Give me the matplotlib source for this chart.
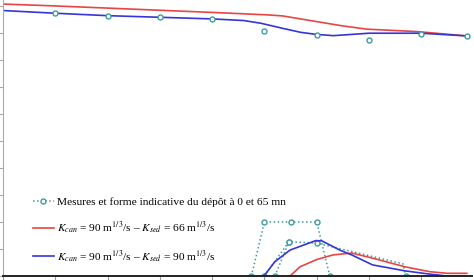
import matplotlib
matplotlib.use("Agg")
from matplotlib import pyplot as plt

# fonts: Times-like text with stix math
plt.rcParams['font.family'] = ['Liberation Serif', 'DejaVu Serif']
plt.rcParams['mathtext.fontset'] = 'stix'

# measured points along the top (water line)
mes_x = [1, 2, 3, 4, 5, 6, 7, 8, 8.88]
mes_y = [9.73, 9.64, 9.58, 9.53, 9.09, 8.93, 8.73, 8.97, 8.89]

# deposit shapes (dotted)
dep0_x = [4.75, 5.0, 5.5, 6.0, 6.25]
dep0_y = [0, 2.0, 2.0, 2.0, 0]
dep65_x = [5.0, 5.47, 6.0, 7.65, 7.7]
dep65_y = [0, 1.27, 1.22, 0.45, 0]
dep65b_x = [5.2, 5.47]
dep65b_y = [0, 1.27]

# Kcan = 90 / Ksed = 66 (red)
red_top_x = [0, 1, 2, 3, 4, 5.05, 5.35, 6.0, 6.5, 6.96, 7.92, 8.87]
red_top_y = [10.07, 10.0, 9.92, 9.84, 9.76, 9.67, 9.63, 9.42, 9.26, 9.14, 9.05, 8.89]
red_bot_x = [5.49, 5.68, 6.0, 6.31, 6.67, 7.07, 7.69, 8.16, 8.49, 8.87]
red_bot_y = [0, 0.34, 0.61, 0.78, 0.85, 0.66, 0.34, 0.16, 0.1, 0.1]

# Kcan = 90 / Ksed = 90 (blue)
blue_top_x = [0, 1, 2, 3, 4, 4.6, 4.93, 5.35, 5.7, 5.98, 6.32, 7.0, 8.0, 8.87]
blue_top_y = [9.83, 9.73, 9.64, 9.58, 9.52, 9.46, 9.36, 9.17, 9.02, 8.95, 8.9, 8.99, 8.99, 8.89]
blue_bot_x = [4.99, 5.2, 5.49, 5.98, 6.1, 6.44, 6.67, 7.07, 7.69, 8.16, 8.49, 8.87]
blue_bot_y = [0, 0.53, 0.96, 1.31, 1.30, 0.96, 0.78, 0.41, 0.19, 0.07, 0.0, 0.0]

teal = "#3e9c9c"
red = "#e84545"
blue = "#3535d8"

fig = plt.figure(figsize=(4.74, 2.8), dpi=100)
ax = fig.add_axes([3/474, 4/280, 469/474, 276/280])

mk = dict(marker='o', markersize=3.6, markerfacecolor='white',
          markeredgecolor=teal, markeredgewidth=1.0)

ax.plot(red_top_x, red_top_y, color=red, lw=1.2)
ax.plot(blue_top_x, blue_top_y, color=blue, lw=1.2)
ax.plot(mes_x, mes_y, ls='none', **mk)

ax.plot(dep0_x, dep0_y, ls=':', color=teal, lw=1.1, **mk,
        label="Mesures et forme indicative du dépôt à 0 et 65 mn")
ax.plot(dep65_x, dep65_y, ls=':', color=teal, lw=1.1, markevery=[0, 1, 2, 4], **mk)
ax.plot(dep65b_x, dep65b_y, ls=':', color=teal, lw=1.1, **mk)

ax.plot(red_bot_x, red_bot_y, color=red, lw=1.2,
        label=r"$K_{can}$ = 90 m$^{1/3}$/s – $K_{sed}$ = 66 m$^{1/3}$/s")
ax.plot(blue_bot_x, blue_bot_y, color=blue, lw=1.2,
        label=r"$K_{can}$ = 90 m$^{1/3}$/s – $K_{sed}$ = 90 m$^{1/3}$/s")

ax.set_xlim(0, 8.97)
ax.set_ylim(0, 10.22)
ax.set_xticks(range(0, 9))
ax.set_yticks(range(0, 11))
ax.set_xticklabels([])
ax.set_yticklabels([])
ax.tick_params(axis='x', direction='out', length=3, color='#999999')
ax.tick_params(axis='y', direction='out', length=3, color='#aaaaaa')

for s in ['top', 'right']:
    ax.spines[s].set_visible(False)
ax.spines['left'].set_color('#aaaaaa')
ax.spines['bottom'].set_color('#222222')
ax.spines['bottom'].set_linewidth(1.4)
ax.patch.set_alpha(0)

ax.legend(loc='upper left', bbox_to_anchor=(33/474, 1 - 197/280),
          bbox_transform=fig.transFigure, frameon=False, fontsize=8.2,
          handlelength=1.8, handletextpad=0.35, labelspacing=1.1,
          borderpad=0, borderaxespad=0, numpoints=1)

fig.savefig("out.png", dpi=100)
